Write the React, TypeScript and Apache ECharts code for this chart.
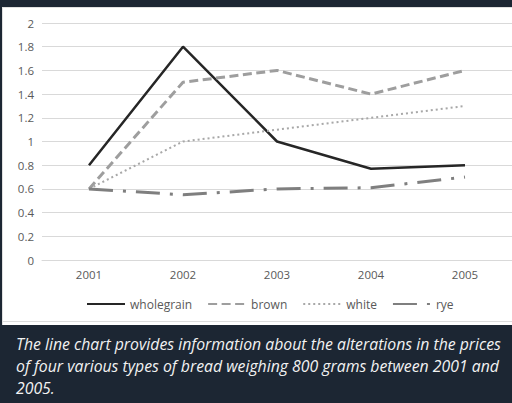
import React, { useEffect, useRef } from "react";
import * as echarts from "echarts";

const years = ["2001", "2002", "2003", "2004", "2005"];
const wholegrain = [0.8, 1.8, 1.0, 0.77, 0.8];
const brown = [0.6, 1.5, 1.6, 1.4, 1.6];
const white = [0.6, 1.0, 1.1, 1.2, 1.3];
const rye = [0.6, 0.55, 0.6, 0.61, 0.7];
const captionLines = [
  "The line chart provides information about the alterations in the prices",
  "of four various types of bread weighing 800 grams between 2001 and",
  "2005.",
];

const FONT = "'Open Sans', 'Noto Sans', sans-serif";

export default function App() {
  const ref = useRef<HTMLDivElement>(null);

  useEffect(() => {
    document.body.style.margin = "0";
    const chart = echarts.init(ref.current!, null, { renderer: "svg" });
    chart.setOption({
      animation: false,
      grid: { left: 42, right: 0, top: 23, height: 237 },
      legend: {
        left: 81,
        top: 293,
        itemWidth: 38,
        itemHeight: 14,
        itemGap: 15,
        itemStyle: { color: "transparent", borderWidth: 0, opacity: 0 },
        textStyle: { color: "#595959", fontSize: 12, fontFamily: FONT },
        data: ["wholegrain", "brown", "white", "rye"],
      },
      xAxis: {
        type: "category",
        data: years,
        boundaryGap: true,
        axisLine: { show: true, lineStyle: { color: "#d9d9d9" } },
        axisTick: { show: false },
        axisLabel: { color: "#595959", fontSize: 11.5, fontFamily: FONT, margin: 8 },
      },
      yAxis: {
        type: "value",
        min: 0,
        max: 2,
        interval: 0.2,
        axisLine: { show: false },
        axisTick: { show: false },
        splitLine: { lineStyle: { color: "#d9d9d9", width: 1 } },
        axisLabel: { color: "#595959", fontSize: 11.5, fontFamily: FONT, margin: 8 },
      },
      series: [
        {
          name: "wholegrain",
          type: "line",
          data: wholegrain,
          symbol: "none",
          lineStyle: { color: "#262626", width: 2.5, type: "solid" },
          itemStyle: { color: "#262626" },
        },
        {
          name: "brown",
          type: "line",
          data: brown,
          symbol: "none",
          lineStyle: { color: "#9e9e9e", width: 3, type: [9, 4.5] },
          itemStyle: { color: "#9e9e9e" },
        },
        {
          name: "white",
          type: "line",
          data: white,
          symbol: "none",
          lineStyle: { color: "#a8a8a8", width: 2, type: [2, 3] },
          itemStyle: { color: "#a8a8a8" },
        },
        {
          name: "rye",
          type: "line",
          data: rye,
          symbol: "none",
          lineStyle: { color: "#7f7f7f", width: 3, type: [24, 10, 3, 10] },
          itemStyle: { color: "#7f7f7f" },
        },
      ],
    });
    return () => chart.dispose();
  }, []);

  return (
    <div
      style={{
        position: "fixed",
        left: 0,
        top: 0,
        width: 512,
        height: 403,
        background: "#1c2633",
        overflow: "hidden",
      }}
    >
      <div
        style={{
          position: "absolute",
          left: 2,
          top: 7,
          width: 510,
          height: 318,
          background: "#ffffff",
          boxSizing: "border-box",
          borderLeft: "1px solid #e0e0e0",
          borderTop: "1px solid #e0e0e0",
        }}
      />
      <div
        style={{
          position: "absolute",
          left: 3,
          top: 321,
          width: 509,
          height: 1,
          background: "#dcdcdc",
        }}
      />
      <div
        ref={ref}
        style={{ position: "absolute", left: 0, top: 0, width: 512, height: 325 }}
      />
      <div
        style={{
          position: "absolute",
          left: 16,
          top: 333,
          color: "#f2f2f2",
          fontFamily: FONT,
          fontStyle: "italic",
          fontSize: 15.8,
          lineHeight: "22px",
        }}
      >
        {captionLines.map((l, i) => (
          <div key={i} style={{ whiteSpace: "nowrap" }}>
            {l}
          </div>
        ))}
      </div>
    </div>
  );
}
